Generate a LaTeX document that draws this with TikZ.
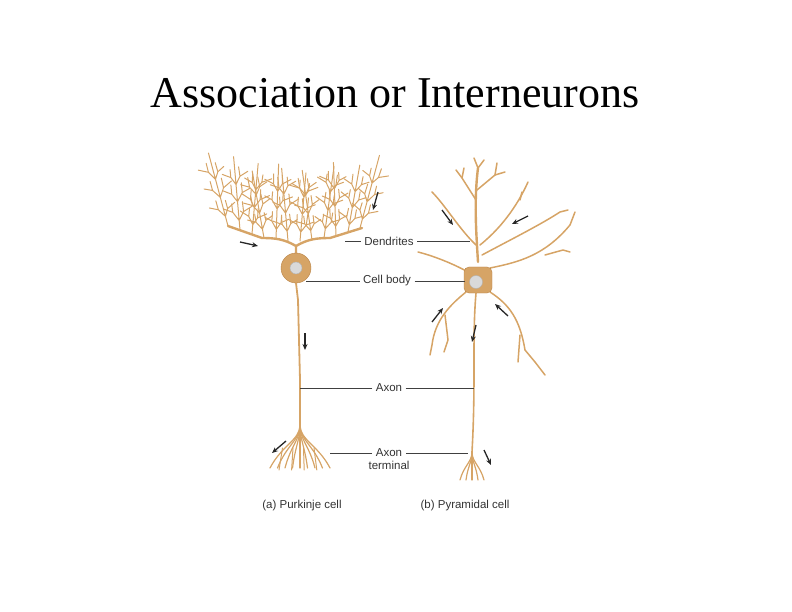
\documentclass[tikz,border=0pt]{standalone}
\usepackage{fontspec}
\setmainfont{Liberation Serif}
\newfontfamily\sansf{Liberation Sans}
\usetikzlibrary{lindenmayersystems,arrows.meta}
\definecolor{tan}{HTML}{D6A466}
\definecolor{tand}{HTML}{B98447}
\pgfdeclarelindenmayersystem{col}{\rule{B -> F[+C][-C]FB}\rule{C -> F[+F][-F]}}
\begin{document}
\begin{tikzpicture}[x=1pt,y=-1pt,
  neu/.style={draw=tan,line width=1.5pt,line cap=round,line join=round},
  thin/.style={draw=tan,line width=1pt,line cap=round},
  lab/.style={font=\sansf\fontsize{11.5}{13.5}\selectfont,text=black!80},
  ld/.style={draw=black!75,line width=0.8pt},
  ar/.style={-{Stealth[length=6pt,width=5pt]},line width=1.3pt,draw=black!85}]
\useasboundingbox (0,0) rectangle (792,612);
\node[font=\fontsize{44}{50}\selectfont] (title) at (395,93) {Association or Interneurons};
\pgfmathsetseed{11}
% Purkinje boughs
\draw[neu,line width=2.4pt] (296,256) -- (296,246) to[out=150,in=0] (262,238) -- (228,226);
\draw[neu,line width=2.4pt] (296,246) to[out=30,in=180] (330,238) -- (362,228);
\foreach \x/\y/\r in {228/226/105,240/230/95,252/234/85,264/238/100,276/239/88,288/241/95,300/241/85,312/240/98,324/238/82,336/236/92,348/232/80,360/228/75}{
  \begin{scope}[shift={(\x,\y)}]
  \draw[thin,rotate=\r,lindenmayer system={col,axiom=B,order=4,step=9pt,angle=32,randomize angle percent=40,randomize step percent=30}] lindenmayer system;
  \end{scope}}
% Purkinje soma
\node[circle,fill=tan,draw=tand,minimum size=30pt,inner sep=0] (ps) at (296,268) {};
\node[circle,fill=black!15,draw=black!30,minimum size=12pt,inner sep=0] (pn) at (296,268) {};
\draw[neu,line width=1.8pt] (296,283) -- (298,300) -- (300,380) -- (300,425);
\foreach \a in {-60,-45,-30,-15,0,15,30,45,60}{
  \draw[thin,line width=1.2pt] (300,425) .. controls (300,440) and ({300+\a*0.3},445) .. ({300+\a*0.5},468);}
\foreach \a in {-50,-20,10,40}{
  \draw[thin] ({300+\a*0.35},448) -- ({300+\a*0.42},470);}
% Pyramidal cell
\draw[neu,line width=2.4pt] (478,262) .. controls (476,230) and (474,200) .. (478,168);
\draw[neu] (478,168) -- (474,158); \draw[neu] (478,168) -- (484,160);
\draw[neu] (476,200) -- (462,178) -- (464,168); \draw[neu] (462,178) -- (456,170);
\draw[neu] (477,190) -- (495,175) -- (497,163); \draw[neu] (495,175) -- (505,172);
\draw[neu] (476,245) .. controls (460,230) and (445,205) .. (432,192);
\draw[neu] (480,245) .. controls (505,225) and (520,200) .. (528,182);
\draw[neu] (520,200) -- (522,192);
\draw[neu] (482,255) .. controls (510,240) and (540,225) .. (560,212) -- (568,210);
\draw[neu] (490,268) .. controls (520,262) and (545,255) .. (570,225) -- (575,212);
\draw[neu] (545,255) -- (563,250) -- (570,252);
\draw[neu] (468,272) .. controls (450,262) and (430,255) .. (418,252);
\draw[neu] (466,292) .. controls (450,305) and (435,320) .. (432,345) -- (430,355);
\draw[neu] (445,315) -- (448,340) -- (444,352);
\draw[neu] (490,292) .. controls (510,305) and (520,320) .. (525,350) -- (535,362) -- (545,375);
\draw[neu] (520,335) -- (518,362);
\node[fill=tan,draw=tand,minimum width=28pt,minimum height=26pt,inner sep=0,rounded corners=5pt] (ys) at (478,280) {};
\node[circle,fill=black!15,draw=black!30,minimum size=13pt,inner sep=0] (yn) at (476,282) {};
\draw[neu,line width=1.6pt] (476,293) .. controls (472,340) and (476,380) .. (472,452);
\foreach \e in {-12,-6,0,6,12}{\draw[thin,line width=1.2pt] (472,452) .. controls (472,462) and ({472+\e*0.7},466) .. ({472+\e},480);}
% arrows
\draw[ar] (240,242) -- (258,246);
\draw[ar] (378,192) -- (373,210);
\draw[ar] (305,333) -- (305,350);
\draw[ar] (286,441) -- (272,453);
\draw[ar] (442,210) -- (453,225);
\draw[ar] (528,216) -- (512,224);
\draw[ar] (432,322) -- (443,308);
\draw[ar] (508,316) -- (495,304);
\draw[ar] (476,325) -- (472,342);
\draw[ar] (484,450) -- (491,465);
% labels
\node[lab] (d) at (389,241) {Dendrites};
\node[lab] (c) at (387,281) {Cell body};
\node[lab] (a) at (389,388) {Axon};
\node[lab,align=center] (t) at (389,459) {Axon\\terminal};
\node[lab] (ca) at (302,506) {(a) Purkinje cell};
\node[lab] (cb) at (465,506) {(b) Pyramidal cell};
\draw[ld] (d.west) -- (345,241); \draw[ld] (d.east) -- (470,241);
\draw[ld] (c.west) -- (306,281); \draw[ld] (c.east) -- (465,281);
\draw[ld] (a.west) -- (300,388); \draw[ld] (a.east) -- (474,388);
\draw[ld] (372,453) -- (330,453); \draw[ld] (406,453) -- (468,453);
\end{tikzpicture}
\end{document}
